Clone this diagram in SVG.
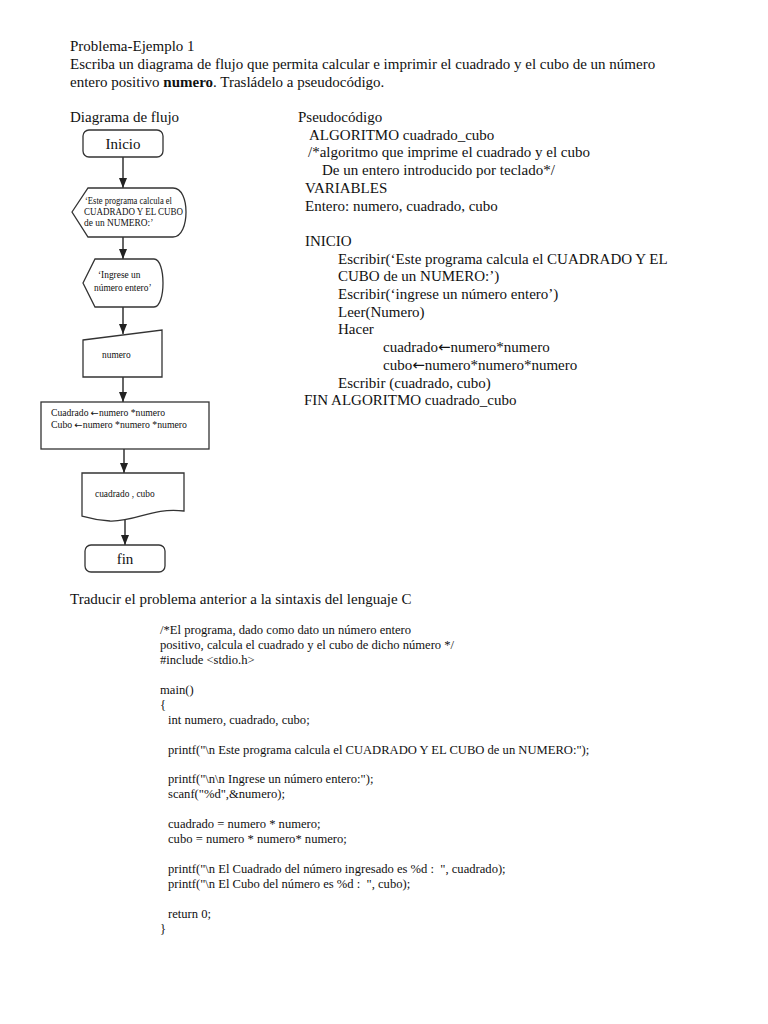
<svg xmlns="http://www.w3.org/2000/svg" width="768" height="1024" viewBox="0 0 768 1024">
<style>
text{font-family:"Liberation Serif","Times New Roman",serif;fill:#111;white-space:pre}
.b{font-size:15px}
.s{font-size:9.4px}
.c{font-size:12.6px}
.ar{font-family:"DejaVu Sans",sans-serif}
.n{fill:#fff;stroke:#333;stroke-width:1.3}
.e{stroke:#333;stroke-width:1.5;fill:none;marker-end:url(#ah)}
</style>
<defs>
<marker id="ah" markerUnits="userSpaceOnUse" markerWidth="10" markerHeight="8" refX="10" refY="4" orient="auto"><path d="M0,0 L10,4 L0,8 Z" fill="#222"/></marker>
</defs>
<rect width="768" height="1024" fill="#fff"/>
<g id="header" class="b">
<text x="70" y="51">Problema-Ejemplo 1</text>
<text x="70" y="69">Escriba un diagrama de flujo que permita calcular e imprimir el cuadrado y el cubo de un número</text>
<text x="70" y="87">entero positivo <tspan font-weight="bold">numero</tspan>. Trasládelo a pseudocódigo.</text>
<text x="70" y="122">Diagrama de flujo</text>
<text x="298" y="122">Pseudocódigo</text>
</g>
<g id="connectors">
<line class="e" x1="123" y1="157" x2="123" y2="188"/>
<line class="e" x1="123" y1="237" x2="123" y2="259"/>
<line class="e" x1="123" y1="307" x2="123" y2="334"/>
<line class="e" x1="123" y1="377" x2="123" y2="402"/>
<line class="e" x1="124" y1="449" x2="124" y2="473"/>
<line class="e" x1="125" y1="519" x2="125" y2="545"/>
</g>
<g id="inicio">
<rect class="n" x="83" y="130" width="80" height="27" rx="6"/>
<text class="b" x="123" y="149" text-anchor="middle">Inicio</text>
</g>
<g id="display1">
<path class="n" d="M72,212 L88,188 L173,188 C182,188 186,200 186,212 C186,224 182,237 173,237 L88,237 Z"/>
<text class="s" x="85" y="204" textLength="87" lengthAdjust="spacingAndGlyphs">‘Este programa calcula el</text>
<text class="s" x="84" y="215" textLength="99" lengthAdjust="spacingAndGlyphs">CUADRADO Y EL CUBO</text>
<text class="s" x="84" y="226">de un NUMERO:’</text>
</g>
<g id="display2">
<path class="n" d="M83,283 L95,259 L154,259 C160,259 163,271 163,283 C163,295 160,307 154,307 L95,307 Z"/>
<text class="s" x="98" y="278">‘Ingrese un</text>
<text class="s" x="94" y="291">número entero’</text>
</g>
<g id="leer">
<path class="n" d="M83,340 L162,330 L162,377 L83,377 Z"/>
<text class="s" x="102" y="358">numero</text>
</g>
<g id="proceso">
<rect class="n" x="41" y="402" width="168" height="47"/>
<text class="s" x="51" y="416" textLength="114" lengthAdjust="spacingAndGlyphs">Cuadrado <tspan class="ar">←</tspan>numero *numero</text>
<text class="s" x="51" y="428" textLength="136" lengthAdjust="spacingAndGlyphs">Cubo <tspan class="ar">←</tspan>numero *numero *numero</text>
</g>
<g id="salida">
<path class="n" d="M82,473 L184,473 L184,511 C152,507 136,522 110,521 C96,520 89,518 82,516 Z"/>
<text class="s" x="95" y="497">cuadrado , cubo</text>
</g>
<g id="fin">
<rect class="n" x="85" y="545" width="80" height="27" rx="6"/>
<text class="b" x="125" y="564" text-anchor="middle">fin</text>
</g>
<g id="pseudocodigo" class="b">
<text x="309" y="139.7">ALGORITMO cuadrado_cubo</text>
<text x="308" y="157.4">/*algoritmo que imprime el cuadrado y el cubo</text>
<text x="322" y="175.1">De un entero introducido por teclado*/</text>
<text x="305" y="192.8">VARIABLES</text>
<text x="305" y="210.5">Entero: numero, cuadrado, cubo</text>
<text x="305" y="245.9">INICIO</text>
<text x="338" y="263.6">Escribir(‘Este programa calcula el CUADRADO Y EL</text>
<text x="338" y="281.3">CUBO de un NUMERO:’)</text>
<text x="338" y="299">Escribir(‘ingrese un número entero’)</text>
<text x="338" y="316.7">Leer(Numero)</text>
<text x="338" y="334.4">Hacer</text>
<text x="383" y="352.1">cuadrado<tspan class="ar">←</tspan>numero*numero</text>
<text x="383" y="369.8">cubo<tspan class="ar">←</tspan>numero*numero*numero</text>
<text x="338" y="387.5">Escribir (cuadrado, cubo)</text>
<text x="304" y="405.2">FIN ALGORITMO cuadrado_cubo</text>
</g>
<g id="traducir" class="b">
<text x="70" y="604">Traducir el problema anterior a la sintaxis del lenguaje C</text>
</g>
<g id="codigo" class="c">
<text x="160" y="634">/*El programa, dado como dato un número entero</text>
<text x="160" y="649">positivo, calcula el cuadrado y el cubo de dicho número */</text>
<text x="160" y="664">#include &lt;stdio.h&gt;</text>
<text x="160" y="694">main()</text>
<text x="160" y="709">{</text>
<text x="168" y="724">int numero, cuadrado, cubo;</text>
<text x="168" y="754">printf("\n Este programa calcula el CUADRADO Y EL CUBO de un NUMERO:");</text>
<text x="168" y="783">printf("\n\n Ingrese un número entero:");</text>
<text x="168" y="798">scanf("%d",&amp;numero);</text>
<text x="168" y="828">cuadrado = numero * numero;</text>
<text x="168" y="843">cubo = numero * numero* numero;</text>
<text x="168" y="873">printf("\n El Cuadrado del número ingresado es %d :  ", cuadrado);</text>
<text x="168" y="888">printf("\n El Cubo del número es %d :  ", cubo);</text>
<text x="168" y="918">return 0;</text>
<text x="160" y="933">}</text>
</g>
</svg>
